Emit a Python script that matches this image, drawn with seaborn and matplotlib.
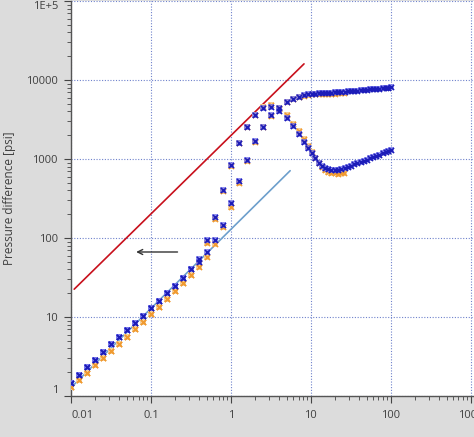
import pandas as pd
import seaborn as sns
import matplotlib.pyplot as plt
from matplotlib.ticker import LogLocator, FixedLocator, FixedFormatter, NullFormatter

# ---- data (log-log diagnostic plot) ----
# model (blue): pressure change and derivative
model_t = [0.01, 0.0126, 0.0158, 0.02, 0.0251, 0.0316, 0.0398, 0.0501, 0.0631, 0.0794,
           0.1, 0.126, 0.158, 0.2, 0.251, 0.316, 0.398, 0.501, 0.631, 0.794,
           1.0, 1.26, 1.58, 2.0, 2.51, 3.16, 3.98, 5.01,
           6.0, 7.1, 8.1, 9.1, 10.2, 11.3, 12.5, 13.7, 15, 16.5, 18, 20, 22, 24, 26.5,
           29, 32, 35, 38, 42, 46, 50, 55, 60, 66, 72, 79, 86, 93, 100]
model_dp = [1.45, 1.83, 2.31, 2.85, 3.57, 4.51, 5.53, 6.85, 8.47, 10.2,
            12.9, 15.9, 19.9, 24.7, 31.4, 40.5, 50, 66, 94, 147,
            274, 525, 977, 1690, 2565, 3575, 4450, 5220,
            5740, 6140, 6400, 6580, 6700, 6740, 6770, 6800, 6830, 6860, 6900, 6950, 7000, 7050, 7110,
            7170, 7240, 7300, 7360, 7420, 7480, 7540, 7600, 7660, 7730, 7800, 7870, 7940, 8000, 8070]
model_der = [1.45, 1.83, 2.31, 2.85, 3.57, 4.51, 5.53, 6.85, 8.47, 10.2,
             12.9, 15.9, 19.9, 24.7, 31.4, 40.5, 55, 94, 184, 405,
             836, 1600, 2560, 3600, 4385, 4510, 4050, 3335,
             2600, 2070, 1660, 1390, 1190, 1020, 885, 810, 765, 740, 728, 726, 735, 750, 770,
             795, 825, 852, 880, 912, 945, 980, 1020, 1060, 1100, 1140, 1180, 1220, 1260, 1300]

# measured (orange): pressure change and derivative
meas_t = [0.01, 0.0126, 0.0158, 0.02, 0.0251, 0.0316, 0.0398, 0.0501, 0.0631, 0.0794,
          0.1, 0.126, 0.158, 0.2, 0.251, 0.316, 0.398, 0.501, 0.631, 0.794,
          1.0, 1.26, 1.58, 2.0, 2.51, 3.16, 3.98, 5.01,
          6.0, 7.1, 8.1, 9.1, 10.2, 11.3, 12.5, 13.7, 15, 16.5, 18, 20, 22, 24, 26]
meas_dp = [1.31, 1.59, 1.97, 2.47, 3.05, 3.74, 4.55, 5.63, 7.05, 8.72,
           10.9, 13.3, 16.9, 21.6, 27.1, 34.0, 43.4, 57, 84, 137,
           249, 490, 930, 1640, 2530, 3550, 4480, 5200,
           5700, 6100, 6350, 6500, 6580, 6600, 6620, 6640, 6660, 6680, 6700, 6720, 6750, 6770, 6790]
meas_der = [1.31, 1.59, 1.97, 2.47, 3.05, 3.74, 4.55, 5.63, 7.05, 8.72,
            10.9, 13.3, 16.9, 21.6, 27.1, 34.0, 48, 86, 175, 390,
            820, 1580, 2550, 3650, 4500, 4850, 4300, 3600,
            2800, 2250, 1780, 1450, 1220, 1030, 880, 790, 730, 690, 670, 660, 655, 658, 665]

# unit slope reference lines and arrow
red_line_t = [0.0109, 8.2]
red_line_p = [22.5, 16000]
blue_line_t = [0.0098, 5.5]
blue_line_p = [1.26, 711]
arrow_t = [0.232, 0.060]
arrow_p = [66.5, 66.5]

x_ticks = [0.01, 0.1, 1, 10, 100, 1000]
x_labels = ["0.01", "0.1", "1", "10", "100", "1000"]
y_ticks = [1, 10, 100, 1000, 10000, 100000]
y_labels = ["1", "10", "100", "1000", "10000", "1E+5"]

meas = pd.DataFrame({"t": meas_t + meas_t, "p": meas_dp + meas_der})
model = pd.DataFrame({"t": model_t + model_t, "p": model_dp + model_der})
lines = pd.DataFrame({"t": red_line_t + blue_line_t,
                      "p": red_line_p + blue_line_p,
                      "kind": ["red"] * 2 + ["blue"] * 2})

sns.set_style("white")
plt.rcParams["font.family"] = ["Open Sans", "DejaVu Sans"]

fig = plt.figure(figsize=(4.74, 4.37), dpi=100)
fig.patch.set_facecolor("#dcdcdc")
ax = fig.add_axes([70.5 / 474, 41 / 437, 403.5 / 474, 395 / 437])
ax.set_facecolor("white")

# measured points first (behind), then model on top
sns.scatterplot(data=meas, x="t", y="p", marker="s", s=20, color="#f6cf98",
                linewidth=0, ax=ax, zorder=3)
sns.scatterplot(data=meas, x="t", y="p", marker="x", s=14, color="#f09a30",
                linewidth=1.1, ax=ax, zorder=4)
sns.scatterplot(data=model, x="t", y="p", marker="s", s=20, color="#7070ec",
                alpha=0.75, linewidth=0, ax=ax, zorder=5)
sns.scatterplot(data=model, x="t", y="p", marker="x", s=14, color="#1c1cb8",
                linewidth=1.1, ax=ax, zorder=6)

sns.lineplot(data=lines, x="t", y="p", hue="kind",
             palette={"red": "#c8101c", "blue": "#6d9fcc"}, legend=False,
             linewidth=1.2, ax=ax, zorder=2)

ax.annotate("", xy=(arrow_t[1], arrow_p[1]), xytext=(arrow_t[0], arrow_p[0]),
            arrowprops=dict(arrowstyle="->", color="#333333", lw=1, mutation_scale=9),
            zorder=7)

ax.set_xscale("log")
ax.set_yscale("log")
ax.set_xlim(0.0098, 1100)
ax.set_ylim(1, 100000)

# ticks and labels
ax.xaxis.set_major_locator(FixedLocator(x_ticks))
ax.xaxis.set_major_formatter(FixedFormatter(x_labels))
ax.yaxis.set_major_locator(FixedLocator(y_ticks))
ax.yaxis.set_major_formatter(FixedFormatter(y_labels))
ax.xaxis.set_minor_locator(LogLocator(base=10, subs=range(2, 10)))
ax.yaxis.set_minor_locator(LogLocator(base=10, subs=range(2, 10)))
ax.xaxis.set_minor_formatter(NullFormatter())
ax.yaxis.set_minor_formatter(NullFormatter())
ax.tick_params(which="major", direction="out", length=5, width=0.8, color="#444444",
               labelsize=8, labelcolor="#404040", bottom=True, left=True)
ax.tick_params(which="minor", direction="out", length=3, width=0.6, color="#444444",
               bottom=True, left=True)
ax.tick_params(axis="x", pad=5)
ax.tick_params(axis="y", pad=4)

fig.canvas.draw()
ax.get_yticklabels()[0].set_va("bottom")
ax.get_yticklabels()[-1].set_va("top")
ax.get_xticklabels()[0].set_ha("left")

ax.grid(True, which="major", color="#6f82cc", linestyle=(0, (1, 1.5)), linewidth=0.8)
ax.set_axisbelow(True)

for side in ["top", "right"]:
    ax.spines[side].set_visible(False)
for side in ["left", "bottom"]:
    ax.spines[side].set_color("#555555")
    ax.spines[side].set_linewidth(1)

ax.set_xlabel("")
ax.set_ylabel("")
fig.text(0.021, 0.547, "Pressure difference [psi]", rotation=90, ha="center", va="center",
         fontsize=8.5, color="#404040")

plt.savefig("out.png", dpi=100, facecolor=fig.get_facecolor())
